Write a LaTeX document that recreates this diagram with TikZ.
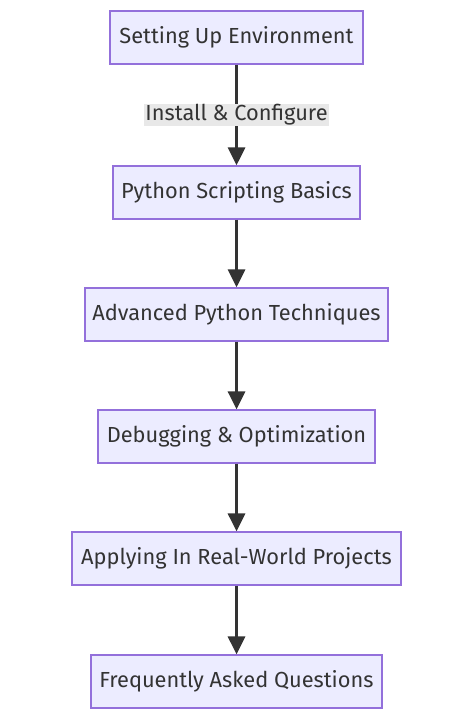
\documentclass[tikz,border=0pt]{standalone}
\usepackage{fontspec}
\setmainfont{Fira Sans}
\usetikzlibrary{arrows.meta}
\definecolor{boxfill}{HTML}{ECECFF}
\definecolor{boxline}{HTML}{9370DB}
\definecolor{arrowcol}{HTML}{333333}
\definecolor{labelfill}{HTML}{E8E8E8}
\tikzset{
  stepbox/.style={draw=boxline,fill=boxfill,line width=1.2pt,minimum height=53pt,
    inner sep=0pt,text=arrowcol,font=\fontsize{21.8}{25}\selectfont},
  flow/.style={draw=arrowcol,line width=3pt,-{Triangle[length=18pt,width=17pt]}},
  edgelabel/.style={fill=labelfill,text=arrowcol,inner sep=1pt,font=\fontsize{21.8}{25}\selectfont}
}
\begin{document}
\begin{tikzpicture}[x=1pt,y=-1pt]
\useasboundingbox (0,0) rectangle (474,719);
\node[stepbox,minimum width=253pt] (env) at (236.5,37.5) {Setting Up Environment};
\node[stepbox,minimum width=247pt] (basics) at (236.5,192.5) {Python Scripting Basics};
\node[stepbox,minimum width=303pt] (adv) at (236.5,314.5) {Advanced Python Techniques};
\node[stepbox,minimum width=277pt] (debug) at (236.5,436.5) {Debugging \& Optimization};
\node[stepbox,minimum width=329pt] (apply) at (236.5,558.5) {Applying In Real-World Projects};
\node[stepbox,minimum width=291pt] (faq) at (236.5,681.5) {Frequently Asked Questions};
\draw[flow] (env) -- node[edgelabel] {Install \& Configure} (basics);
\draw[flow] (basics) -- (adv);
\draw[flow] (adv) -- (debug);
\draw[flow] (debug) -- (apply);
\draw[flow] (apply) -- (faq);
\end{tikzpicture}
\end{document}
